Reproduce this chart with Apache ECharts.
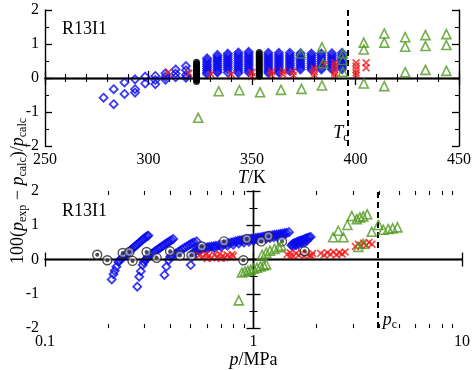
<!DOCTYPE html>
<html><head><meta charset="utf-8">
<script src="https://cdn.jsdelivr.net/npm/echarts@6/dist/echarts.min.js"></script>
<style>html,body{margin:0;padding:0;background:#fff}#c{width:474px;height:370px}</style>
</head><body><div id="c"></div>
<script>
// ---------- data ----------
const panelLabel = 'R13I1';
const Tc = 396.44;   // K
const pc = 3.953;    // MPa
const tempTicks = [250, 450, 50];
const devTicks = [-2, 2, 1];
const presTicks = [0.1, 10];
const presMinorTicks = [0.2,0.3,0.4,0.5,0.6,0.7,0.8,0.9,2,3,4,5,6,7,8,9];

// top panel: [T/K, deviation %]
const blueT = [
 [278.3,-0.58],[283.2,-0.77],[283.2,-0.33],[288.4,-0.13],[288.4,-0.47],
 [293.5,-0.04],[293.5,-0.33],[293.5,-0.43],[298.4,0.04],[298.4,-0.16],
 [303.3,0.06],[303.3,-0.06],[303.3,-0.18],[308.2,0.14],[308.2,0.04],[308.2,-0.05],
 [313.1,0.25],[313.1,0.13],[313.1,0.02],[318.1,0.35],[318.1,0.23],[318.1,0.09],[318.1,0.01],
 [328.3,0.58],[328.3,0.52],[328.3,0.46],[328.3,0.40],[328.3,0.34],[328.3,0.28],[328.3,0.22],[328.3,0.16],[328.3,0.12],
 [333.3,0.68],[333.3,0.62],[333.3,0.56],[333.3,0.50],[333.3,0.44],[333.3,0.38],[333.3,0.32],[333.3,0.26],[333.3,0.20],[333.3,0.16],
 [338.3,0.72],[338.3,0.66],[338.3,0.60],[338.3,0.54],[338.3,0.48],[338.3,0.42],[338.3,0.36],[338.3,0.30],[338.3,0.24],[338.3,0.16],
 [343.4,0.75],[343.4,0.69],[343.4,0.63],[343.4,0.57],[343.4,0.51],[343.4,0.45],[343.4,0.39],[343.4,0.33],[343.4,0.27],[343.4,0.21],[343.4,0.15],
 [348.4,0.77],[348.4,0.71],[348.4,0.65],[348.4,0.59],[348.4,0.53],[348.4,0.47],[348.4,0.41],[348.4,0.35],[348.4,0.29],[348.4,0.23],[348.4,0.17],
 [357.9,0.74],[357.9,0.68],[357.9,0.62],[357.9,0.56],[357.9,0.50],[357.9,0.44],[357.9,0.38],[357.9,0.32],[357.9,0.26],[357.9,0.20],[357.9,0.15],
 [363.0,0.74],[363.0,0.68],[363.0,0.62],[363.0,0.56],[363.0,0.50],[363.0,0.44],[363.0,0.38],[363.0,0.32],[363.0,0.26],[363.0,0.20],[363.0,0.16],
 [368.3,0.74],[368.3,0.68],[368.3,0.62],[368.3,0.56],[368.3,0.50],[368.3,0.44],[368.3,0.38],[368.3,0.32],[368.3,0.26],[368.3,0.20],
 [373.4,0.73],[373.4,0.67],[373.4,0.61],[373.4,0.55],[373.4,0.49],[373.4,0.43],[373.4,0.37],[373.4,0.31],[373.4,0.25],
 [378.7,0.72],[378.7,0.66],[378.7,0.60],[378.7,0.54],[378.7,0.48],[378.7,0.42],[378.7,0.36],[378.7,0.30],[378.7,0.24],
 [383.5,0.72],[383.5,0.66],[383.5,0.60],[383.5,0.54],[383.5,0.48],[383.5,0.42],[383.5,0.36],[383.5,0.30],[383.5,0.25],
 [388.6,0.73],[388.6,0.67],[388.6,0.61],[388.6,0.55],[388.6,0.49],[388.6,0.43],[388.6,0.37],[388.6,0.31],[388.6,0.25],
 [393.5,0.74],[393.5,0.68],[393.5,0.62],[393.5,0.56],[393.5,0.50],[393.5,0.44],[393.5,0.38],[393.5,0.32],[393.5,0.26]
];
const blackT = [
 [323.2,-0.10],[323.2,-0.06],[323.2,-0.02],[323.2,0.02],[323.2,0.06],[323.2,0.10],[323.2,0.14],
 [323.2,0.18],[323.2,0.22],[323.2,0.26],[323.2,0.30],[323.2,0.34],[323.2,0.38],[323.2,0.42],[323.2,0.46],
 [353.5,0.05],[353.5,0.10],[353.5,0.15],[353.5,0.20],[353.5,0.25],[353.5,0.30],[353.5,0.35],[353.5,0.40],
 [353.5,0.45],[353.5,0.50],[353.5,0.55],[353.5,0.60],[353.5,0.65],[353.5,0.70],[353.5,0.75]
];
const redT = [
 [309.5,0.16],[319.5,0.14],[330.2,0.11],[340.0,0.11],[349.9,0.16],[349.9,0.04],
 [359.5,0.19],[359.5,0.09],[365.1,0.20],[365.1,0.10],[369.9,0.19],[369.9,0.08],
 [380.0,0.28],[380.0,0.18],[380.0,0.09],[385.0,0.40],
 [389.9,0.45],[389.9,0.35],[389.9,0.25],[389.9,0.15],[389.9,0.07],
 [400.3,0.45],[400.3,0.35],[400.3,0.25],[400.3,0.15],[400.3,0.07],[405.1,0.45],[405.1,0.30]
];
const greenT = [
 [324.0,-1.17],[333.9,-0.39],[343.9,-0.36],[353.9,-0.42],[364.0,-0.35],[373.9,-0.32],[383.8,-0.22],
 [373.6,0.72],[383.8,0.90],[384.3,0.43],[393.9,0.72],[393.9,0.53],[393.9,0.18],
 [404.0,1.04],[404.0,0.84],[404.0,-0.16],[413.9,1.31],[413.9,1.04],[413.9,-0.24],
 [424.0,1.20],[424.0,0.92],[424.0,0.17],[433.8,1.26],[433.8,0.94],[433.8,0.24],
 [443.9,1.29],[443.9,0.97],[443.9,0.21]
];

// bottom panel: [p/MPa, deviation %]
const blueP = [
 [0.209,-0.58],[0.213,-0.43],[0.216,-0.33],[0.220,-0.21],[0.225,-0.07],[0.228,-0.02],[0.232,0.02],[0.236,0.06],[0.240,0.10],
 [0.244,0.14],[0.248,0.18],[0.252,0.22],[0.256,0.26],[0.260,0.30],[0.265,0.34],[0.270,0.38],[0.274,0.42],[0.279,0.46],
 [0.284,0.50],[0.289,0.54],[0.294,0.58],[0.299,0.62],[0.304,0.65],[0.309,0.68],[0.313,0.70],
 [0.277,-0.79],[0.283,-0.50],[0.288,-0.34],[0.294,-0.16],[0.298,-0.08],[0.302,-0.02],[0.306,0.02],[0.310,0.06],
 [0.315,0.10],[0.320,0.14],[0.325,0.17],[0.331,0.20],[0.337,0.24],[0.343,0.27],[0.350,0.31],[0.356,0.34],
 [0.363,0.38],[0.370,0.41],[0.377,0.45],[0.385,0.48],[0.391,0.51],[0.398,0.54],[0.405,0.57],[0.412,0.60],
 [0.374,-0.45],[0.382,-0.21],[0.392,-0.02],[0.398,0.08],[0.406,0.11],[0.415,0.14],[0.425,0.18],[0.435,0.22],
 [0.445,0.26],[0.455,0.30],[0.466,0.34],[0.478,0.38],[0.489,0.42],[0.500,0.45],[0.510,0.48],[0.520,0.50],[0.534,0.53],
 [0.500,-0.16],[0.510,0.08],
 [0.515,0.20],[0.522,0.23],[0.530,0.26],[0.540,0.28],[0.550,0.30],[0.560,0.32],[0.570,0.33],[0.585,0.35],[0.600,0.36],
 [0.615,0.37],[0.630,0.38],[0.645,0.39],[0.660,0.40],[0.680,0.42],[0.700,0.43],[0.720,0.45],[0.740,0.46],[0.760,0.48],
 [0.780,0.50],[0.800,0.51],[0.820,0.53],[0.840,0.55],[0.860,0.56],[0.880,0.57],[0.900,0.58],[0.925,0.59],[0.950,0.60],
 [0.975,0.61],[1.000,0.62],[1.025,0.63],[1.050,0.64],[1.075,0.65],[1.100,0.66],[1.125,0.67],[1.150,0.68],[1.175,0.69],
 [1.200,0.70],[1.230,0.71],[1.260,0.72],[1.290,0.73],[1.320,0.74],[1.350,0.75],[1.380,0.76],[1.410,0.77],[1.440,0.78],[1.480,0.80],
 [0.550,0.24],[0.600,0.30],[0.650,0.33],[0.700,0.37],[0.750,0.40],[0.800,0.43],[0.850,0.47],[0.900,0.50],[0.950,0.52],
 [1.000,0.55],[1.050,0.57],[1.100,0.60],[1.150,0.61],[1.200,0.63],[1.250,0.65],[1.300,0.66],[1.350,0.68],[1.400,0.70],
 [1.520,0.42],[1.540,0.45],[1.560,0.47],[1.580,0.48],[1.600,0.50],[1.625,0.52],[1.650,0.53],[1.675,0.55],[1.700,0.56],
 [1.730,0.58],[1.760,0.60],[1.790,0.62],[1.820,0.63],[1.850,0.65],[1.880,0.66],[1.550,0.38],[1.600,0.42],[1.650,0.45],
 [1.700,0.48],[1.750,0.50],[1.800,0.54]
];
const blackP = [
 [0.178,0.14],[0.199,-0.02],[0.236,0.19],[0.254,0.22],[0.263,-0.04],[0.307,0.22],[0.343,0.05],
 [0.398,0.24],[0.444,0.12],[0.504,0.12],[0.565,0.38],[0.722,0.53],[0.894,-0.02],[0.929,0.60],
 [1.088,0.53],[1.180,0.68],[1.370,0.53],[1.760,0.24]
];
const redP = [
 [0.55,0.12],[0.57,0.08],[0.59,0.15],[0.61,0.10],[0.63,0.05],[0.65,0.13],[0.67,0.08],[0.69,0.16],
 [0.71,0.10],[0.73,0.05],[0.75,0.13],[0.77,0.08],[0.79,0.15],[0.80,0.10],[0.60,0.03],[0.70,0.03],
 [1.45,0.15],[1.50,0.20],[1.55,0.10],[1.60,0.18],[1.65,0.13],[1.70,0.20],[1.75,0.10],[1.80,0.17],
 [1.86,0.12],[1.92,0.18],[1.50,0.10],[1.90,0.10],
 [2.10,0.18],[2.18,0.13],[2.26,0.20],[2.34,0.15],[2.42,0.22],[2.50,0.14],[2.58,0.20],[2.66,0.16],[2.75,0.22],
 [3.08,0.38],[3.18,0.45],[3.28,0.40],[3.38,0.48],[3.48,0.42],[3.58,0.50],[3.70,0.45]
];
const greenP = [
 [0.85,-1.19],
 [0.88,-0.38],[0.91,-0.35],[0.94,-0.33],[0.97,-0.30],[1.00,-0.27],[1.04,-0.24],[1.08,-0.20],[1.12,-0.17],[1.15,-0.14],
 [1.10,0.14],[1.15,0.20],[1.20,0.26],[1.26,0.31],[1.32,0.36],[1.36,0.40],
 [2.41,0.65],[2.55,0.84],[2.70,0.65],[2.82,1.01],[2.96,1.27],[3.13,1.18],[3.24,1.23],[3.36,1.26],
 [3.51,1.32],[3.69,0.81],[3.97,1.01],[4.19,0.87],[4.43,0.89],[4.65,0.91],[4.90,0.94],[3.18,0.37],[3.36,0.46]
];

// ---------- styles ----------
const FONT = 'Liberation Serif';
const BLUE = '#0a0aee', RED = '#f01c1c', GREEN = '#4f9a1e', BLACK = '#000';
const crossPath = 'path://M0,1.5L1.5,0L5,3.5L8.5,0L10,1.5L6.5,5L10,8.5L8.5,10L5,6.5L1.5,10L0,8.5L3.5,5Z';

const tickStyle = {color: '#000', width: 1.3};
function axisBase(extra) {
  return Object.assign({
    axisLine: {show: true, lineStyle: {color: '#000', width: 1.4}},
    axisTick: {show: true, inside: true, length: 7, lineStyle: tickStyle},
    splitLine: {show: false},
    axisLabel: {color: '#000', fontFamily: FONT, fontSize: 16, margin: 6}
  }, extra);
}
const hidden = {show: false};
const rich = {
  i: {fontStyle: 'italic', fontFamily: FONT, fontSize: 18, color: '#000'},
  s: {fontFamily: FONT, fontSize: 12, color: '#000', padding: [9, 0, 0, 0]},
  n: {fontFamily: FONT, fontSize: 18, color: '#000'}
};
const minorT = {show: true, splitNumber: 5, length: 4, lineStyle: {color: '#000', width: 1.1}};
const minorY = {show: true, splitNumber: 2, length: 4, lineStyle: {color: '#000', width: 1.1}};

function logMinorAxis(pos) {
  return {gridIndex: 1, type: 'value', min: Math.log10(presTicks[0]), max: Math.log10(presTicks[1]),
    position: pos, axisLine: hidden, axisLabel: hidden, splitLine: hidden, minorTick: hidden,
    axisTick: {show: true, inside: true, length: 4, lineStyle: {color: '#000', width: 1.1},
      customValues: presMinorTicks.map(v => Math.log10(v))}};
}

const xAxes = [
  axisBase({gridIndex: 0, type: 'value', min: tempTicks[0], max: tempTicks[1], interval: tempTicks[2],
    position: 'bottom', minorTick: minorT,
    name: '{i|T}{n|/K}', nameLocation: 'middle', nameGap: 21, nameTextStyle: {rich: rich}}),
  axisBase({gridIndex: 0, type: 'value', min: tempTicks[0], max: tempTicks[1], interval: tempTicks[2],
    position: 'top', minorTick: minorT, axisLabel: hidden}),
  axisBase({gridIndex: 1, type: 'log', logBase: 10, min: presTicks[0], max: presTicks[1],
    position: 'bottom', minorTick: hidden,
    name: '{i|p}{n|/MPa}', nameLocation: 'middle', nameGap: 17, nameTextStyle: {rich: rich}}),
  axisBase({gridIndex: 1, type: 'log', logBase: 10, min: presTicks[0], max: presTicks[1],
    position: 'top', minorTick: hidden, axisLabel: hidden}),
  logMinorAxis('bottom'),
  logMinorAxis('top')
];
function yAx(g, pos, lab) {
  return axisBase({gridIndex: g, type: 'value', min: devTicks[0], max: devTicks[1], interval: devTicks[2],
    position: pos, minorTick: minorY, axisLabel: lab ? {color: '#000', fontFamily: FONT, fontSize: 16, margin: 6} : hidden});
}
const yAxes = [yAx(0, 'left', true), yAx(0, 'right', false), yAx(1, 'left', true), yAx(1, 'right', false)];

function sc(data, xi, yi, sym, size, style, z) {
  return {type: 'scatter', data: data, xAxisIndex: xi, yAxisIndex: yi, symbol: sym, symbolSize: size,
    itemStyle: style, z: z || 2, silent: true, emphasis: {disabled: true}, animation: false};
}
const hollow = (c, w) => ({color: 'rgba(0,0,0,0)', borderColor: c, borderWidth: w || 1.6});

function refLines(xi, yi, xv) {
  return {type: 'scatter', data: [], xAxisIndex: xi, yAxisIndex: yi, silent: true, animation: false,
    markLine: {silent: true, symbol: 'none', animation: false, label: {show: false},
      data: [
        {yAxis: 0, lineStyle: {color: '#000', width: 1.3, type: 'solid'}},
        {xAxis: xv, lineStyle: {color: '#000', width: 2, type: [6, 4]}}
      ]}};
}

const series = [
  refLines(0, 0, Tc),
  sc(blueT, 0, 0, 'diamond', 8, hollow(BLUE, 1.8), 3),
  sc(redT, 0, 0, crossPath, 8, {color: RED}, 4),
  sc(blackT, 0, 0, 'circle', 7, {color: BLACK}, 5),
  sc(greenT, 0, 0, 'triangle', 9, hollow(GREEN, 1.6), 6),
  refLines(2, 2, pc),
  sc(blueP, 2, 2, 'diamond', 8, hollow(BLUE, 1.8), 3),
  sc(redP, 2, 2, crossPath, 8, {color: RED}, 4),
  sc(blackP, 2, 2, 'circle', 9, {color: 'rgba(255,255,255,0.6)', borderColor: '#222', borderWidth: 1.4}, 5),
  sc(blackP, 2, 2, 'circle', 4, {color: '#222'}, 5),
  sc(greenP, 2, 2, 'triangle', 9, hollow(GREEN, 1.6), 6)
];

const chart = echarts.init(document.getElementById('c'), null, {renderer: 'canvas'});
chart.setOption({
  animation: false,
  backgroundColor: '#fff',
  grid: [
    {left: 45, right: 12, top: 10, height: 136},
    {left: 45, right: 12, top: 191, height: 139}
  ],
  xAxis: xAxes,
  yAxis: yAxes,
  series: series,
  graphic: [
    {type: 'text', left: 62, top: 20, style: {text: panelLabel, font: '18px "Liberation Serif"', fill: '#000'}},
    {type: 'text', left: 62, top: 202, style: {text: panelLabel, font: '18px "Liberation Serif"', fill: '#000'}},
    {type: 'text', x: 341, y: 133, style: {text: '{i|T}{s|c}', rich: rich, align: 'center', verticalAlign: 'middle'}},
    {type: 'text', x: 390, y: 320, style: {text: '{i|p}{s|c}', rich: rich, align: 'center', verticalAlign: 'middle'}},
    {type: 'text', x: 18, y: 191, rotation: Math.PI / 2,
      style: {text: '{n|100(}{i|p}{s|exp}{n| − }{i|p}{s|calc}{n|)/}{i|p}{s|calc}', rich: rich,
        align: 'center', verticalAlign: 'middle'}}
  ]
});
</script></body></html>
